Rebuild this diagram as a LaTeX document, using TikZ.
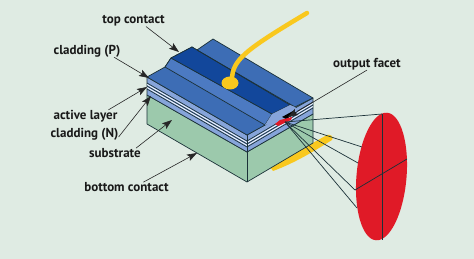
\documentclass[tikz,border=0pt]{standalone}
\usepackage{fontspec}
\setmainfont{PT Sans}
\usetikzlibrary{
  arrows.meta,
  positioning,
}
\definecolor{paper}{HTML}{DFEBE3}
\definecolor{ridgedark}{HTML}{12479B}
\definecolor{topblue}{HTML}{3D6DB5}
\definecolor{slopeblue}{HTML}{4C7AC2}
\definecolor{sideblue}{HTML}{86A4DA}
\definecolor{greenbox}{HTML}{9CC9AC}
\definecolor{wire}{HTML}{F9C81E}
\definecolor{beamred}{HTML}{E01A27}
\definecolor{linegrey}{HTML}{1B3138}
\tikzset{
  >={Stealth[length=10pt,width=7pt,inset=2pt]},
  lbl/.style={font=\bfseries\fontsize{13}{15}\selectfont, text=black!90, inner sep=0pt},
  pointer/.style={->, black!85, line width=0.6pt},
  edge/.style={draw=linegrey, line width=0.7pt, line join=round},
  ray/.style={linegrey, line width=0.7pt},
}

\begin{document}
\begin{tikzpicture}[x=1pt,y=-1pt]
  \fill[paper] (0,0) rectangle (474,259);
  \useasboundingbox (0,0) rectangle (474,259);

  % wire under the chip
  \fill[wire] (270,167) -- (327,135) .. controls (331,134) and (334,137) .. (332,140)
    .. controls (316,150) and (295,163) .. (273,171) -- cycle;

  % substrate
  \coordinate (subL) at (147,95);
  \coordinate (subF) at (247,152);
  \coordinate (subR) at (313,114);
  \coordinate (botL) at (147,124);
  \coordinate (botF) at (247,182);
  \coordinate (botR) at (313,143);
  \filldraw[edge, fill=greenbox] (subL) -- (subF) -- (subR) -- (botR) -- (botF) -- (botL) -- cycle;
  \draw[edge] (subF) -- (botF);

  % layers on the two visible faces
  \coordinate (topL) at (147,77);
  \coordinate (topF) at (247,135);
  \coordinate (topR) at (313,98);
  \coordinate (topB) at (213,39);
  \filldraw[edge, fill=sideblue] (topL) -- (topF) -- (topR) -- (subR) -- (subF) -- (subL) -- cycle;
  \foreach \y/\c in {83/linegrey, 84.5/white, 86/linegrey, 87.5/white, 89/linegrey} {
    \draw[\c, line width=0.7pt] (147,\y) -- (247,\y+58) -- (313,\y+19);
  }
  \draw[edge] (topF) -- (subF);

  % top surface with the raised stripe
  \filldraw[edge, fill=topblue] (topL) -- (165,67) -- (171,58) -- (192,47) -- (197,50) -- (topB)
    -- (topR) -- (295,107) -- (290,105) -- (272,114) -- (265,125) -- (topF) -- cycle;
  \filldraw[edge, fill=slopeblue] (165,67) -- (171,58) -- (272,114) -- (265,125) -- cycle;
  \filldraw[edge, fill=ridgedark] (171,58) -- (192,47) -- (290,105) -- (272,114) -- cycle;
  \draw[edge] (197,50) -- (295,107);

  % front of the stripe, dark notch and emitting spot
  \fill[sideblue] (265,125) -- (272,114) -- (290,105) -- (295,107) -- (298,112) -- (278,122) -- cycle;
  \fill[black] (282,117) -- (293,111) -- (297,113) -- (286,119) -- cycle;
  \fill[beamred] (275,124) -- (280,120) -- (292,117) -- (291,120) -- (278,126) -- cycle;

  % bond wire and pad
  \draw[wire, line width=4.5pt, line cap=round] (232,80) .. controls (232,60) and (245,50) .. (307,13);
  \fill[wire] (230,83) ellipse (8.5 and 6.5);

  % far field spot
  \coordinate (spot) at (285,122);
  \fill[beamred, rotate around={-5:(381.5,176.5)}] (381.5,176.5) ellipse (25 and 64);
  \draw[ray] (382,114) -- (382,240);
  \draw[ray] (355,190) -- (407,159);
  \foreach \ex/\ey in {382/114, 362/147, 358/163, 355/190, 357/208} {
    \draw[ray] (spot) -- (\ex,\ey);
  }

  % labels
  \node[lbl] (topcontact) at (133.5,21) {top contact};
  \node[lbl] (cladp) at (87,51) {cladding (P)};
  \node[lbl] (active) at (85.5,116) {active layer};
  \node[lbl] (cladn) at (84.5,134) {cladding (N)};
  \node[lbl] (substrate) at (115,153) {substrate};
  \node[lbl] (bottom) at (126.5,187) {bottom contact};
  \node[lbl] (facet) at (367,64) {output facet};

  \coordinate (tipTop) at (179,52);
  \coordinate (tipP) at (149,78);
  \coordinate (tipActive) at (147,87);
  \coordinate (tipN) at (151,96);
  \coordinate (tipSub) at (172,120);
  \coordinate (tipBot) at (197,153);
  \coordinate (tipFacet) at (288,117);
  \draw[pointer] (topcontact.-24) -- (tipTop);
  \draw[pointer] (cladp.-13) -- (tipP);
  \draw[pointer] (active.15) -- (tipActive);
  \draw[pointer] (cladn.-5) -- (tipN);
  \draw[pointer] (substrate.13) -- (tipSub);
  \draw[pointer] (bottom.16) -- (tipBot);
  \draw[pointer] (facet.south) -- (tipFacet);
\end{tikzpicture}
\end{document}
